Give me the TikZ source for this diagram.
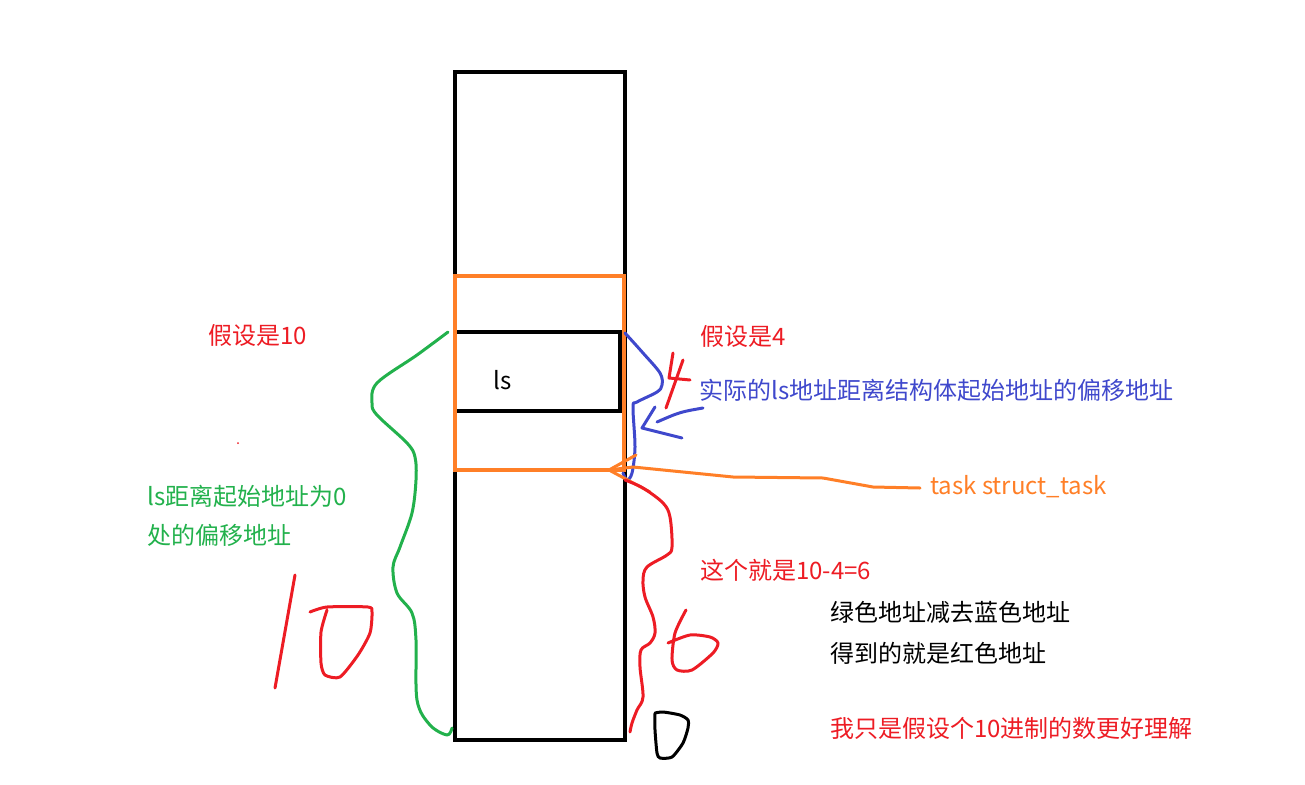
\documentclass[tikz,border=0pt]{standalone}
\usepackage{fontspec}
\newfontfamily\cjk{Noto Sans CJK SC}
\usepackage{tikz}
\usetikzlibrary{positioning}
\definecolor{pred}{RGB}{237,28,36}
\definecolor{pgreen}{RGB}{34,177,76}
\definecolor{pblue}{RGB}{63,72,204}
\definecolor{porange}{RGB}{255,127,39}
\tikzset{cell/.style={draw,line width=4pt,inner sep=0pt,outer sep=0pt}}
\tikzset{note/.style={anchor=west,inner sep=0pt,font=\cjk\fontsize{24}{28}\selectfont}}
\tikzset{pen/.style={line width=3pt,line cap=round,line join=round}}

\begin{document}
\begin{tikzpicture}[x=1pt,y=-1pt]
        \useasboundingbox (0,0) rectangle (1305,784);
        % memory column and the struct
        \node[cell,minimum width=170,minimum height=668] (mem) at (540,406) {};
        \node[cell,minimum width=165,minimum height=79] (lsbox) at (537.5,371.5) {};
        \node[font=\cjk\fontsize{24}{28}\selectfont] (ls) at (503,380) {ls};
        \node[cell,draw=porange,minimum width=169,minimum height=194] (task) at (539.5,373) {};
        % labels
        \node[note,text=pred] (g10) at (208,335) {假设是10};
        \node[note,text=pred] (b4) at (700,336) {假设是4};
        \node[note,text=pblue] (bnote) at (699,390) {实际的ls地址距离结构体起始地址的偏移地址};
        \node[note,text=porange] (tname) at (930,487) {task struct\_task};
        \node[note,text=pgreen] (gnote) at (147,496) {ls距离起始地址为0};
        \node[note,text=pgreen] (gnote2) at (147,535) {处的偏移地址};
        \node[note,text=pred] (r6) at (700,570) {这个就是10-4=6};
        \node[note] (sub) at (830,612) {绿色地址减去蓝色地址};
        \node[note] (sub2) at (830,653) {得到的就是红色地址};
        \node[note,text=pred] (hint) at (830,728) {我只是假设个10进制的数更好理解};
        \fill[pred] (238,443) circle (1pt);
        % green brace: ls to start
        \draw[pen,pgreen] plot[smooth,tension=0.55] coordinates {(448,332) (417,355) (377,383) (372,403) (377,415) (407,443) (415,457) (416,480) (412,513) (400,547) (393,567) (397,593) (412,613) (416,640) (417,700) (430,725) (447,735) (452,728)};
        \draw[pen,pred] (295,575) -- (275,688);
        \draw[pen,pred] plot[smooth,tension=0.4] coordinates {(310,612) (327,607) (368,607) (372,612) (370,633) (358,655) (340,677) (325,675) (321,663) (321,632) (327,610)};
        % blue brace: ls to struct start
        \draw[pen,pblue] plot[smooth,tension=0.55] coordinates {(625,333) (643,353) (660,373) (662,385) (657,392) (637,402) (633,407) (635,447) (632,473) (627,480) (623,473)};
        \draw[pen,pblue] (703,408) .. controls (680,412) .. (657,422);
        \draw[pen,pblue] (655,407) -- (642,428) -- (682,438);
        \draw[pen,pred] (673,353) -- (669,378) -- (690,380);
        \draw[pen,pred] (683,360) -- (666,408);
        % orange pointer
        \coordinate (tail) at (920,488);
        \coordinate (tip) at (609,470);
        \draw[pen,porange] (tail) -- (873,487) -- (823,478) -- (733,477) -- (633,467) -- (tip);
        \draw[pen,porange] (tip) -- (636,455);
        \draw[pen,porange] (tip) -- (650,492);
        % red brace: struct start to start
        \draw[pen,pred] plot[smooth,tension=0.55] coordinates {(625,480) (643,488) (663,503) (670,517) (672,547) (667,555) (647,567) (643,580) (645,597) (653,617) (655,633) (650,643) (641,650) (640,667) (643,697) (637,710) (632,723) (630,732)};
        \draw[pen,pred] plot[smooth,tension=0.45] coordinates {(686,610) (675,633) (672,660) (677,670) (692,670) (713,653) (718,643) (710,637) (690,635) (668,643)};
        \draw[pen,black] plot[smooth,tension=0.4] coordinates {(655,713) (663,712) (680,715) (688,720) (688,728) (683,743) (672,757) (660,758) (657,753) (655,730) (655,713)};
    \end{tikzpicture}
\end{document}
